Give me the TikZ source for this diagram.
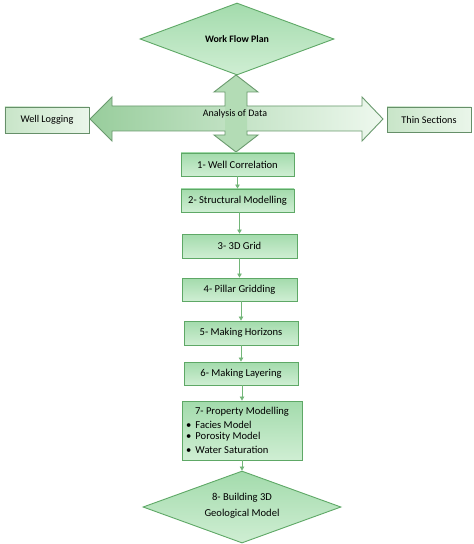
\documentclass[tikz,border=0pt]{standalone}
\usepackage{fontspec}
\setmainfont{Carlito}
\usetikzlibrary{shapes.geometric,arrows.meta}
\definecolor{bord}{HTML}{5EA866}
\definecolor{gA}{HTML}{A3DBAC}
\definecolor{gB}{HTML}{CFEED3}
\definecolor{lineg}{HTML}{72B578}
\definecolor{arrL}{HTML}{98CD9C}
\definecolor{arrR}{HTML}{EEF8EE}
\definecolor{arrV}{HTML}{B3DCB5}
\definecolor{arrB}{HTML}{6A9A6E}
\definecolor{sideA}{HTML}{C8E5C8}
\definecolor{sideB}{HTML}{EAF6EA}
\definecolor{sideD}{HTML}{668F69}
\begin{document}
\begin{tikzpicture}[x=1bp,y=-1bp,
  stepbox/.style={draw=bord, line width=0.9bp, top color=gA, bottom color=gB,
    inner sep=0pt, font=\fontsize{10.6}{12}\selectfont},
  sidebox/.style={draw=sideD, line width=0.9bp, left color=sideA, right color=sideB,
    inner sep=0pt, minimum width=84bp, font=\fontsize{10.3}{12}\selectfont},
  dia/.style={diamond, draw=bord, line width=0.9bp, top color=gA, bottom color=gB,
    inner sep=0pt, aspect=2.7},
  txt/.style={inner sep=0pt, font=\fontsize{10.6}{12}\selectfont},
  conn/.style={draw=lineg, line width=0.8bp, -{Triangle[length=4bp,width=4.5bp]}},
]
\useasboundingbox (0,0) rectangle (474,544);
\fill[white] (0,0) rectangle (474,544);

% top diamond
\node[dia, minimum width=194bp, minimum height=72bp] (d0) at (237,39)
  {\fontsize{9.9}{12}\selectfont\bfseries Work Flow Plan};

% cross arrow
\shade[left color=arrL, right color=arrR]
  (90,119) -- (112,97) -- (112,106) -- (362,106) -- (362,97) -- (383,119)
  -- (362,141) -- (362,131) -- (112,131) -- (112,141) -- cycle;
\fill[arrV] (236,75) -- (258,92) -- (247,92) -- (247,135) -- (258,135) -- (236,152)
  -- (214,135) -- (225,135) -- (225,92) -- (214,92) -- cycle;
\draw[arrB, line width=0.9bp, line join=miter]
  (236,75) -- (258,92) -- (247,92) -- (247,106) -- (362,106) -- (362,97) -- (383,119)
  -- (362,141) -- (362,131) -- (247,131) -- (247,135) -- (258,135) -- (236,152)
  -- (214,135) -- (225,135) -- (225,131) -- (112,131) -- (112,141) -- (90,119)
  -- (112,97) -- (112,106) -- (225,106) -- (225,92) -- (214,92) -- cycle;
\node[inner sep=0pt, font=\fontsize{10}{12}\selectfont] (ad) at (235,114) {Analysis of Data};

% side boxes
\node[sidebox, minimum height=26bp] (wl) at (47,120) {Well Logging};
\node[sidebox, minimum height=25bp] (ts) at (429,119.5) {Thin Sections};

% step boxes
\node[stepbox, minimum width=113bp, minimum height=23bp] (b1) at (237.5,164.5) {1- Well Correlation};
\node[stepbox, minimum width=113bp, minimum height=23bp] (b2) at (237.5,200.5) {2- Structural Modelling};
\node[stepbox, minimum width=115bp, minimum height=24bp] (b3) at (239.5,246) {3- 3D Grid};
\node[stepbox, minimum width=115bp, minimum height=23bp] (b4) at (239.5,289.5) {4- Pillar Gridding};
\node[stepbox, minimum width=114bp, minimum height=24bp] (b5) at (241,333) {5- Making Horizons};
\node[stepbox, minimum width=114bp, minimum height=23bp] (b6) at (241,373.5) {6- Making Layering};
\node[stepbox, minimum width=120bp, minimum height=59bp] (b7) at (242,430.5) {};
\node[txt] (b7t) at (242,412) {7- Property Modelling};
\node[txt, anchor=west] (b7a) at (186,424.5) {\textbullet\hspace{4bp}Facies Model};
\node[txt, anchor=west] (b7b) at (186,437) {\textbullet\hspace{4bp}Porosity Model};
\node[txt, anchor=west] (b7c) at (186,449.5) {\textbullet\hspace{4bp}Water Saturation};

% bottom diamond
\node[dia, minimum width=198bp, minimum height=72bp] (d8) at (242,507) {};
\node[txt] (d8a) at (242,497.5) {8- Building 3D};
\node[txt] (d8b) at (242,513.5) {Geological Model};

% connectors
\draw[conn] (b1.south -| b2.north) -- (b2.north);
\draw[conn] (b2.south -| b3.north) -- (b3.north);
\draw[conn] (b3.south -| b4.north) -- (b4.north);
\draw[conn] (b4.south -| b5.north) -- (b5.north);
\draw[conn] (b5.south -| b6.north) -- (b6.north);
\draw[conn] (b6.south -| b7.north) -- (b7.north);
\draw[conn] (b7.south -| d8.north) -- (d8.north);
\end{tikzpicture}
\end{document}
